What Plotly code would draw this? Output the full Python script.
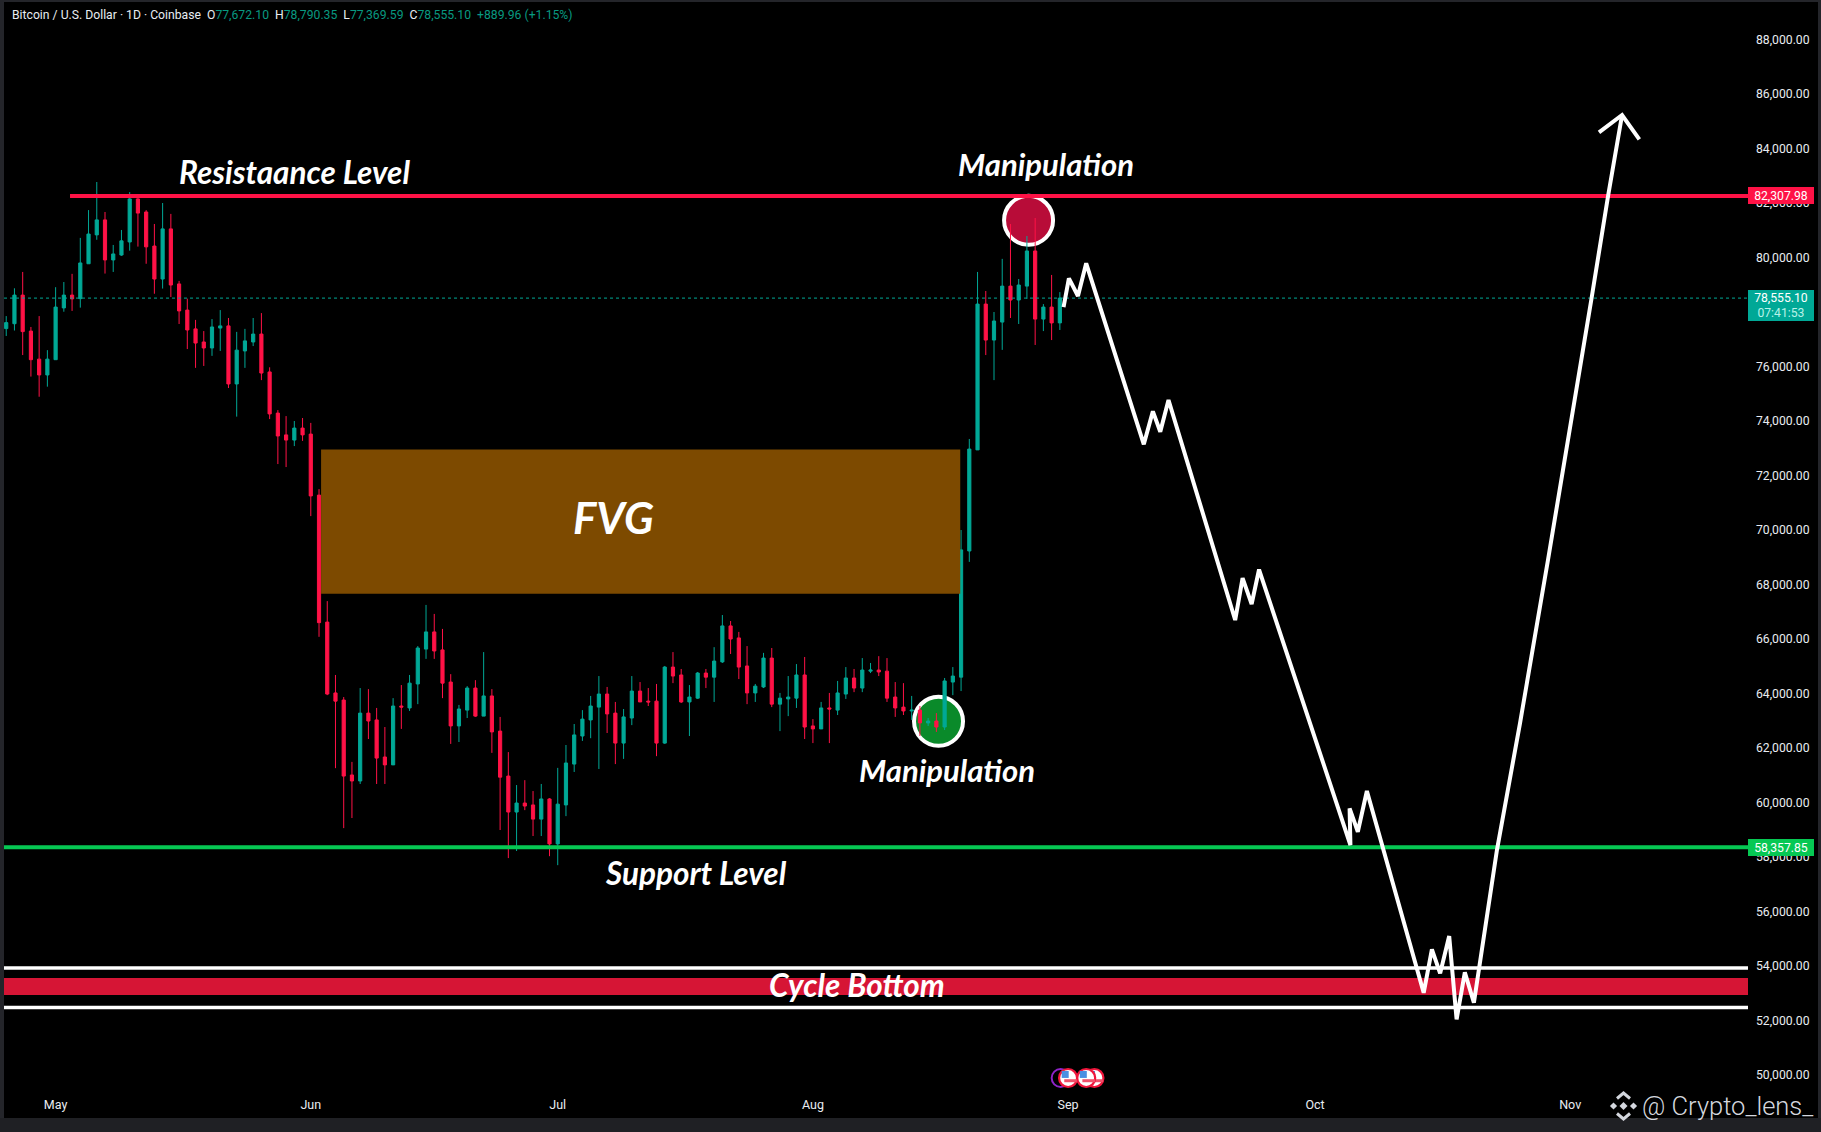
import pandas as pd
import plotly.graph_objects as go

START = "2026-04-25"
opens = [77390,77570,78620,77300,76270,75690,76250,78150,78620,78490,
79770,80830,81380,79910,80090,80570,82150,81670,80420,79210,
81050,79030,78070,77380,76900,76680,77410,77490,75360,76570,
76900,77190,75800,74290,73490,73300,73740,73520,71280,66620,
64020,63760,61010,60790,63280,63030,61670,61380,63540,63470,
64350,65630,66260,65600,64420,62810,63390,64200,63170,63910,
62620,60970,59650,59980,59910,59390,60130,58480,59910,61410,
62440,63030,63500,63980,63280,62180,63100,64090,63720,63720,
62180,64970,64680,63690,63830,64750,64600,65160,66480,66040,
65010,64020,64240,65300,63610,63800,63830,64680,62810,62700,
63470,63390,63980,64570,64200,64820,64860,64820,63870,63500,
63360,63390,62920,62990,62770,64420,64600,69230,72940,78290,
76970,77630,78950,78440,78950,80240,77740,78180,77600]
closes = [77610,78620,77280,76250,75690,76270,78180,78620,78480,79800,
80860,81380,79910,80130,80610,82150,81630,80390,79210,81050,
78990,78040,77340,76860,76680,77450,77490,75360,76600,76940,
77190,75760,74260,73450,73300,73740,73490,71250,66600,63980,
63720,60970,60790,63280,62990,61630,61380,63540,63500,64380,
65670,66260,65560,64380,62810,63430,64200,63170,63910,62590,
60930,59650,59980,59870,59390,60130,58480,59940,61450,62480,
63060,63540,63980,63250,62180,63140,64090,63690,63690,62180,
64970,64640,63690,63870,64750,64600,65190,66480,66000,64970,
64020,64270,65300,63610,63830,63870,64680,62770,62700,63470,
63430,64020,64570,64200,64860,64860,64790,63830,63470,63360,
63390,62920,62990,62770,64460,64640,69270,72970,78290,76970,
77670,78950,78440,78990,80240,77740,78180,77600,78510]
highs = [77850,78870,79470,77450,77850,76600,78910,79100,79400,80720,
81740,82770,81670,80460,81010,82400,82180,81740,81230,82000,
81600,79140,78490,77710,77300,77740,78070,77780,77270,77380,
77780,77960,75970,74400,74180,74000,74110,73930,71500,67390,
64680,63870,61490,64200,64160,63470,62770,63830,64310,64680,
65740,67250,66920,66370,64710,63580,64270,64490,65520,64160,
63140,61850,60640,60820,60420,60680,60160,61270,62110,62880,
63390,63910,64640,64240,63690,63430,64640,64420,64200,64350,
65010,65520,64900,64310,64790,64900,65700,66880,66660,66260,
65740,64350,65490,65670,64020,64640,65080,65340,63060,63690,
64020,64460,64970,64900,65300,65120,65370,65300,64420,64380,
63910,63540,63100,63280,64570,64970,70000,73340,79470,78770,
78000,79950,81230,79210,80790,81450,78290,79360,78730]
lows = [77120,77320,76420,75630,74890,75260,76250,78010,78040,78160,
79770,80650,79410,79470,80060,80250,80400,79770,78670,78860,
78550,77560,76640,75950,76020,76390,76570,75210,74160,75950,
76750,75500,74070,72420,72310,73080,73270,70510,66080,63940,
61260,59060,59430,60680,62330,60680,60680,61380,62700,63360,
63610,65270,65270,63830,62150,62220,63100,63140,63170,61820,
58990,57960,58220,59720,58770,58770,58030,57700,59500,61120,
62260,62360,61230,62550,61410,61600,62840,63690,63540,61700,
62150,64380,63650,62440,63800,64200,63690,65120,65450,64530,
63610,63690,64200,63500,62620,63170,63470,62330,62180,62700,
62180,63210,63800,64050,64050,64750,64640,63690,63140,63210,
63030,62440,62810,62590,62660,63940,64090,68830,72940,76420,
75500,76610,77780,77560,78480,76790,77300,76970,77340]

month_ticks = ["2026-05-01","2026-06-01","2026-07-01","2026-08-01","2026-09-01","2026-10-01","2026-11-01"]
month_labels = ["May","Jun","Jul","Aug","Sep","Oct","Nov"]

proj_day = [128.45,129.1,130.2,131.2,138.2,139.3,140.2,141.2,149.3,150.2,151.3,152.2,163.3,163.2,164.2,165.3,
            172.2,173.2,174.2,175.3,176.2,177.2,178.3,181.1,183.9,187.3,192.6,194.6,196.3]
proj_val = [78180,79236,78586,79787,73144,74355,73606,74770,66696,68237,67283,68549,58438,59785,58926,60420,
            53018,54610,53730,55098,52041,53766,52651,58255,62905,68898,78513,82256,85229]
head_day = [193.5,196.3,198.4]
head_val = [84594,85229,84337]

RES_DRAW, SUP_DRAW, LAST_DRAW = 82260, 58357.85, 78510
FVG = (38.25, 115.9, 67661, 72953)
CYCLE = (52933, 53557)
CYCLE_LINES = (53924, 52474)
flag_day = [129.0, 131.2, 132.2]

PL, PR, PT, PB = 4, 1748, 2, 1095
W, H = 1821, 1132
t0 = pd.Timestamp(START)
def day(d):
    return t0 + pd.to_timedelta(d, unit="D")
dates = [day(i) for i in range(len(opens))]
RED, TEAL = "#ff1246", "#00a896"
def px(x): return (x - PL) / (PR - PL)
def py(y): return (PB - y) / (PB - PT)
day_x0, day_x1 = day(-0.27), day(211.6)

fig = go.Figure()
fig.add_trace(go.Candlestick(x=dates, open=opens, high=highs, low=lows, close=closes, name="BTCUSD",
    increasing=dict(line=dict(color=TEAL, width=1), fillcolor=TEAL),
    decreasing=dict(line=dict(color=RED, width=1), fillcolor=RED), whiskerwidth=0, showlegend=False))
for xs, ys, c, w, dash in [
    ([day(7.75), day_x1], [RES_DRAW]*2, RED, 4, None),
    ([day_x0, day_x1], [SUP_DRAW]*2, "#06c853", 4, None),
    ([day_x0, day_x1], [LAST_DRAW]*2, TEAL, 1, "dot"),
    ([day_x0, day_x1], [CYCLE_LINES[0]]*2, "#ffffff", 3.5, None),
    ([day_x0, day_x1], [CYCLE_LINES[1]]*2, "#ffffff", 3.5, None),
]:
    fig.add_trace(go.Scatter(x=xs, y=ys, mode="lines", line=dict(color=c, width=w, dash=dash), showlegend=False, hoverinfo="skip"))
fig.add_trace(go.Scatter(x=[day(d) for d in proj_day], y=proj_val, mode="lines",
    line=dict(color="#ffffff", width=4, simplify=False), showlegend=False, hoverinfo="skip"))
fig.add_trace(go.Scatter(x=[day(d) for d in head_day], y=head_val, mode="lines",
    line=dict(color="#ffffff", width=4), showlegend=False, hoverinfo="skip"))

# event flags
fig.add_trace(go.Scatter(x=[day(128.1)], y=[49890], mode="markers", marker=dict(size=18, color="#000000", line=dict(color="#8e24c8", width=2)), showlegend=False, hoverinfo="skip"))
for d in reversed(flag_day):
    fig.add_trace(go.Scatter(x=[day(d)], y=[49890], mode="markers", marker=dict(size=18, color="#ffffff", line=dict(color="#f0163c", width=2.2)), showlegend=False, hoverinfo="skip"))
    fig.add_trace(go.Scatter(x=[day(d-0.35)], y=[50020], mode="markers", marker=dict(size=7, symbol="square", color="#4a90e2"), showlegend=False, hoverinfo="skip"))
    fig.add_trace(go.Scatter(x=[day(d+0.3)], y=[49790], mode="markers", marker=dict(size=9, symbol="line-ew", line=dict(color="#f0506a", width=3)), showlegend=False, hoverinfo="skip"))

shapes = []
# FVG box and cycle band
shapes.append(dict(type="rect", layer="above", xref="x", yref="y", x0=day(FVG[0]), x1=day(FVG[1]), y0=FVG[2], y1=FVG[3], fillcolor="#7d4a00", line=dict(width=0)))
shapes.append(dict(type="rect", layer="below", xref="x", yref="y", x0=day_x0, x1=day_x1, y0=CYCLE[0], y1=CYCLE[1], fillcolor="#d61535", line=dict(width=0)))
# manipulation circles
for d, v, col in [(124.2, 81365, "#b80c38"), (113.26, 62978, "#0a8a2a")]:
    shapes.append(dict(type="circle", layer="below", xref="x", yref="y", xsizemode="pixel", ysizemode="pixel",
        xanchor=day(d), yanchor=v, x0=-24.5, x1=24.5, y0=-24.5, y1=24.5, fillcolor=col, line=dict(color="#ffffff", width=4)))
# chrome strips
CH = "#24252a"
shapes += [
    dict(type="rect", layer="above", xref="paper", yref="paper", x0=px(0), x1=px(4), y0=py(W), y1=py(0), fillcolor=CH, line=dict(width=0)),
    dict(type="rect", layer="above", xref="paper", yref="paper", x0=px(0), x1=px(W), y0=py(H), y1=py(1118), fillcolor="#1f2024", line=dict(width=0)),
    dict(type="rect", layer="above", xref="paper", yref="paper", x0=px(0), x1=px(W), y0=py(2), y1=py(0), fillcolor=CH, line=dict(width=0)),
    dict(type="rect", layer="above", xref="paper", yref="paper", x0=px(1818), x1=px(W), y0=py(1118), y1=py(0), fillcolor=CH, line=dict(width=0)),
]
# Binance mark of the watermark
IC = "#d4d7de"
def dia(cx, cy, r):
    return dict(type="path", layer="above", xref="paper", yref="paper",
        path=f"M {px(cx-r)} {py(cy)} L {px(cx)} {py(cy-r)} L {px(cx+r)} {py(cy)} L {px(cx)} {py(cy+r)} Z",
        fillcolor=IC, line=dict(width=0))
cx, cy = 1623.5, 1106
shapes += [dia(cx, cy, 4), dia(cx-10, cy, 3.6), dia(cx+10, cy, 3.6)]
for s in (-1, 1):
    shapes.append(dict(type="path", layer="above", xref="paper", yref="paper",
        path=f"M {px(cx-6.5)} {py(cy+s*7.5)} L {px(cx)} {py(cy+s*13)} L {px(cx+6.5)} {py(cy+s*7.5)}",
        line=dict(color=IC, width=3)))

HAND = dict(family="Lato", color="#ffffff", weight="bold", style="italic")
ann = []
for text, x, y, size in [("Resistaance Level", 294, 172, 31.5), ("Manipulation", 1046, 164, 31), ("Manipulation", 947, 770, 31),
                         ("Support Level", 696, 873, 31.5), ("Cycle Bottom", 857, 985, 31.5), ("FVG", 613, 517, 44)]:
    ann.append(dict(text=text, xref="paper", yref="paper", x=px(x), y=py(y), xanchor="center", yanchor="middle", showarrow=False,
                    font=dict(size=size, **HAND)))
G = "#089981"
def kv(k, v): return f"<span style='color:#e8ecf2'>{k}</span><span style='color:{G}'>{v}</span>"
header = ("<span style='color:#e8ecf2'>Bitcoin / U.S. Dollar · 1D · Coinbase</span>&nbsp;&nbsp;" + kv("O", "77,672.10") + "&nbsp;&nbsp;" + kv("H", "78,790.35")
          + "&nbsp;&nbsp;" + kv("L", "77,369.59") + "&nbsp;&nbsp;" + kv("C", "78,555.10") + "&nbsp;&nbsp;" + f"<span style='color:{G}'>+889.96 (+1.15%)</span>")
ann.append(dict(text=header, xref="paper", yref="paper", x=px(9.5), y=py(15), xanchor="left", yanchor="middle", showarrow=False,
                font=dict(family="Roboto", size=12.2, color="#e8ecf2")))
ann.append(dict(text="@ Crypto_lens_", xref="paper", yref="paper", x=px(1640), y=py(1106), xanchor="left", yanchor="middle", showarrow=False,
                font=dict(family="Roboto", size=25.5, color="#d4d7de", weight=300)))
for text, val, bg, hh in [("82,307.98", RES_DRAW, RED, 17), ("58,357.85", SUP_DRAW, "#06c853", 17),
                          ("78,555.10<br><span style='color:#b8f2e8'>07:41:53</span>", 78245, TEAL, 31)]:
    ann.append(dict(text=text, xref="paper", yref="y", x=1.0, y=val, xanchor="left", yanchor="middle", showarrow=False,
                    width=66, height=hh, bgcolor=bg, borderpad=0, borderwidth=0, align="center",
                    font=dict(family="Roboto", size=12.2, color="#ffffff")))

fig.update_layout(width=W, height=H, margin=dict(l=PL, r=W-PR, t=PT, b=H-PB), paper_bgcolor="#000000", plot_bgcolor="#000000",
    boxgap=0.45, showlegend=False, shapes=shapes, annotations=ann, hovermode=False,
    xaxis=dict(type="date", range=[day_x0, day_x1], rangeslider=dict(visible=False), showgrid=False, zeroline=False, showline=False,
               ticks="", tickmode="array", tickvals=month_ticks, ticktext=month_labels, tickfont=dict(family="Roboto", size=12.5, color="#e8ecf2")),
    yaxis=dict(side="right", range=[49266, 89376], tickmode="linear", tick0=50000, dtick=2000, tickformat=",.2f", showgrid=False, zeroline=False,
               showline=False, ticks="", ticklabelstandoff=7, tickfont=dict(family="Roboto", size=12.2, color="#e8ecf2")))
fig.write_html("out.html", config=dict(displayModeBar=False), post_script="document.body.style.margin='0';document.body.style.background='#000';")
